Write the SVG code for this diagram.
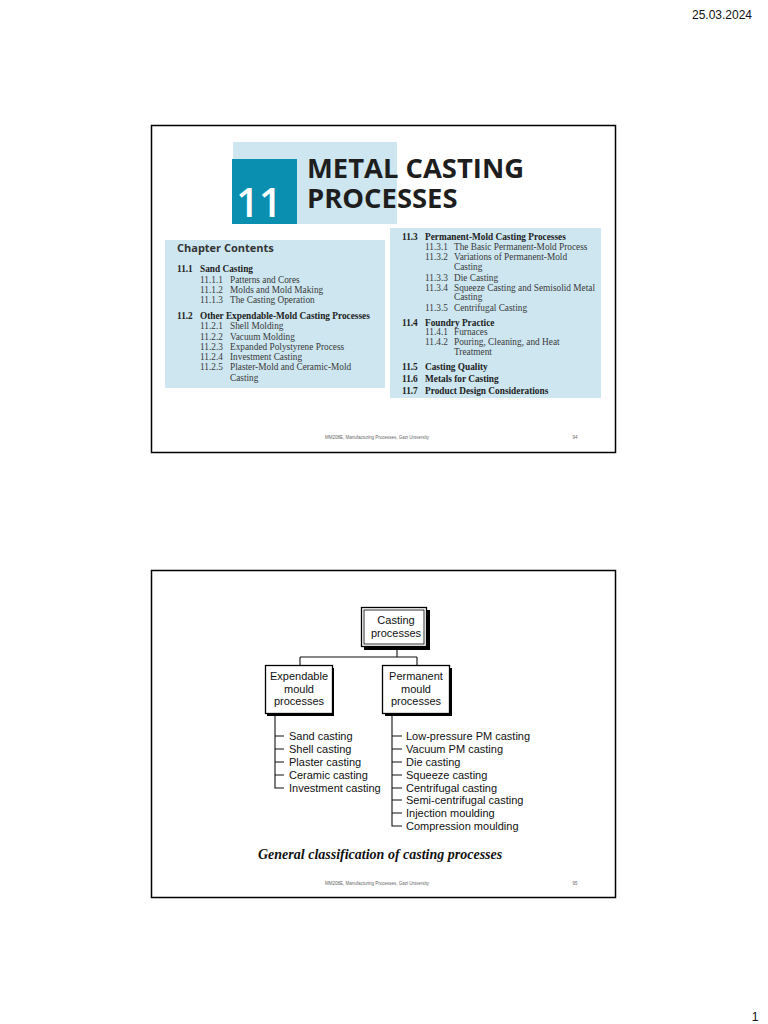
<svg xmlns="http://www.w3.org/2000/svg" width="768" height="1024" viewBox="0 0 768 1024">
<style>
.slide{fill:#fff;stroke:#000;stroke-width:1.5}
.foot{font-family:"Liberation Sans",Arial,sans-serif;font-size:4.5px;fill:#666}
.ser{font-family:"Liberation Serif","Times New Roman",serif;font-size:9.3px;fill:#3a3a3a}
.b{font-weight:bold;fill:#222}
.box{fill:#fff;stroke:#000;stroke-width:1.3}
.shadow{fill:#000}
.nt{font-family:"Liberation Sans",Arial,sans-serif;font-size:11px;fill:#111;text-anchor:middle}
.it{font-family:"Liberation Sans",Arial,sans-serif;font-size:11px;fill:#111}
.ln{stroke:#111;stroke-width:1.1;fill:none}
</style>
<rect width="768" height="1024" fill="#fff"/>
<text x="722" y="19" font-family="Liberation Sans,Arial,sans-serif" font-size="12" fill="#111" text-anchor="middle">25.03.2024</text>
<text x="755" y="1021" font-family="Liberation Sans,Arial,sans-serif" font-size="12" fill="#111" text-anchor="middle">1</text>

<!-- Slide 94 -->
<g id="slide94">
<rect class="slide" x="151.5" y="125.5" width="464" height="327"/>
<rect x="233" y="142" width="164" height="82" fill="#cde6f0"/>
<rect x="232" y="159" width="65" height="65" fill="#0a8fb0"/>
<text x="259" y="217" font-family="Open Sans,Liberation Sans,sans-serif" font-size="40" font-weight="600" fill="#fff" text-anchor="middle">11</text>
<text x="307" y="178" font-family="Open Sans,Liberation Sans,sans-serif" font-size="27.4" font-weight="bold" fill="#1e1e1e">METAL CASTING</text>
<text x="307" y="208" font-family="Open Sans,Liberation Sans,sans-serif" font-size="27.4" font-weight="bold" fill="#1e1e1e">PROCESSES</text>

<rect x="165" y="240" width="220" height="148" fill="#cde6f0"/>
<text x="177" y="252" font-family="Open Sans,Liberation Sans,sans-serif" font-size="11" font-weight="bold" fill="#333">Chapter Contents</text>
<g class="ser">
<text class="b" x="177" y="272">11.1</text><text class="b" x="200" y="272">Sand Casting</text>
<text x="200" y="283">11.1.1</text><text x="230" y="283">Patterns and Cores</text>
<text x="200" y="293">11.1.2</text><text x="230" y="293">Molds and Mold Making</text>
<text x="200" y="303">11.1.3</text><text x="230" y="303">The Casting Operation</text>
<text class="b" x="177" y="319">11.2</text><text class="b" x="200" y="319">Other Expendable-Mold Casting Processes</text>
<text x="200" y="329">11.2.1</text><text x="230" y="329">Shell Molding</text>
<text x="200" y="340">11.2.2</text><text x="230" y="340">Vacuum Molding</text>
<text x="200" y="350">11.2.3</text><text x="230" y="350">Expanded Polystyrene Process</text>
<text x="200" y="360">11.2.4</text><text x="230" y="360">Investment Casting</text>
<text x="200" y="370">11.2.5</text><text x="230" y="370">Plaster-Mold and Ceramic-Mold</text>
<text x="230" y="381">Casting</text>
</g>

<rect x="390" y="228" width="211" height="170" fill="#cde6f0"/>
<g class="ser">
<text class="b" x="402" y="240">11.3</text><text class="b" x="425" y="240">Permanent-Mold Casting Processes</text>
<text x="425" y="250">11.3.1</text><text x="454" y="250">The Basic Permanent-Mold Process</text>
<text x="425" y="260">11.3.2</text><text x="454" y="260">Variations of Permanent-Mold</text>
<text x="454" y="270">Casting</text>
<text x="425" y="281">11.3.3</text><text x="454" y="281">Die Casting</text>
<text x="425" y="291">11.3.4</text><text x="454" y="291">Squeeze Casting and Semisolid Metal</text>
<text x="454" y="300">Casting</text>
<text x="425" y="311">11.3.5</text><text x="454" y="311">Centrifugal Casting</text>
<text class="b" x="402" y="326">11.4</text><text class="b" x="425" y="326">Foundry Practice</text>
<text x="425" y="335">11.4.1</text><text x="454" y="335">Furnaces</text>
<text x="425" y="345">11.4.2</text><text x="454" y="345">Pouring, Cleaning, and Heat</text>
<text x="454" y="355">Treatment</text>
<text class="b" x="402" y="370">11.5</text><text class="b" x="425" y="370">Casting Quality</text>
<text class="b" x="402" y="382">11.6</text><text class="b" x="425" y="382">Metals for Casting</text>
<text class="b" x="402" y="394">11.7</text><text class="b" x="425" y="394">Product Design Considerations</text>
</g>
<text class="foot" x="377" y="439" text-anchor="middle">MM208E, Manufacturing Processes, Gazi University</text>
<text class="foot" x="575" y="439" text-anchor="middle">94</text>
</g>

<!-- Slide 95 -->
<rect class="slide" x="151.5" y="570.5" width="464" height="327"/>

<g id="connectors">
<path class="ln" d="M397 648V657M300 657H417M300 657V666M417 657V666"/>
<path class="ln" d="M275 714V788H284M275 736H284M275 749H284M275 762H284M275 775H284"/>
<path class="ln" d="M392 714V826H402M392 736H402M392 749H402M392 762H402M392 775H402M392 788H402M392 800H402M392 813H402"/>
</g>

<g id="node-casting">
<rect class="shadow" x="364" y="610" width="66" height="40"/>
<rect class="box" x="361.5" y="607.5" width="65" height="39"/>
<rect fill="none" stroke="#000" stroke-width="0.8" x="364" y="610" width="60" height="34"/>
<text class="nt" x="396" y="624">Casting</text>
<text class="nt" x="396" y="637">processes</text>
</g>
<g id="node-expendable">
<rect class="shadow" x="267" y="668" width="67" height="48"/>
<rect class="box" x="265.5" y="665.5" width="67" height="48"/>
<text class="nt" x="299" y="680">Expendable</text>
<text class="nt" x="299" y="693">mould</text>
<text class="nt" x="299" y="705">processes</text>
</g>
<g id="node-permanent">
<rect class="shadow" x="385" y="668" width="67" height="48"/>
<rect class="box" x="382.5" y="665.5" width="67" height="48"/>
<text class="nt" x="416" y="680">Permanent</text>
<text class="nt" x="416" y="693">mould</text>
<text class="nt" x="416" y="705">processes</text>
</g>
<g id="list-expendable">
<text class="it" x="289" y="740">Sand casting</text>
<text class="it" x="289" y="753">Shell casting</text>
<text class="it" x="289" y="766">Plaster casting</text>
<text class="it" x="289" y="779">Ceramic casting</text>
<text class="it" x="289" y="792">Investment casting</text>
</g>
<g id="list-permanent">
<text class="it" x="406" y="740">Low-pressure PM casting</text>
<text class="it" x="406" y="753">Vacuum PM casting</text>
<text class="it" x="406" y="766">Die casting</text>
<text class="it" x="406" y="779">Squeeze casting</text>
<text class="it" x="406" y="792">Centrifugal casting</text>
<text class="it" x="406" y="804">Semi-centrifugal casting</text>
<text class="it" x="406" y="817">Injection moulding</text>
<text class="it" x="406" y="830">Compression moulding</text>
</g>
<text x="258" y="859" font-family="Liberation Serif,Times New Roman,serif" font-size="14" font-weight="bold" font-style="italic" fill="#111">General classification of casting processes</text>
<text class="foot" x="377" y="885" text-anchor="middle">MM208E, Manufacturing Processes, Gazi University</text>
<text class="foot" x="575" y="885" text-anchor="middle">95</text>
</svg>
